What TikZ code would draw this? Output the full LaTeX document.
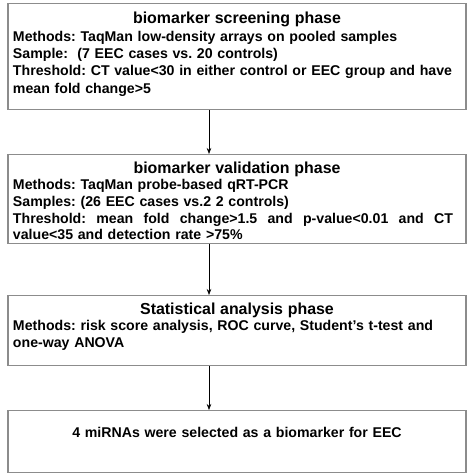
\documentclass[tikz,border=0pt]{standalone}
\usepackage{fontspec}
\setmainfont{Liberation Sans}
\usetikzlibrary{arrows.meta}

\newcommand{\phasetitle}[1]{\makebox[\hsize]{\fontsize{16}{18}\selectfont #1}}

\tikzset{
  phase/.style={draw=black!45, line width=1.2bp, rectangle, anchor=north,
    text width=448bp, inner xsep=5bp, inner ysep=4bp, align=left,
    text height=16bp, font=\bfseries\frenchspacing\fontsize{14.2}{17.5}\selectfont},
  tight/.style={text height=14.5bp, font=\bfseries\frenchspacing\fontsize{14.2}{16.7}\selectfont},
  flow/.style={draw, line width=0.6bp, -{Stealth[length=6bp,width=4.5bp]}}
}

\begin{document}
\begin{tikzpicture}[x=1bp,y=1bp]
\useasboundingbox (0,0) rectangle (474,-476);

\node[phase, text depth=82bp] (screen) at (237,-3) {\phasetitle{biomarker screening phase}\\
Methods: TaqMan low-density arrays on pooled samples\\
Sample:\ \ (7 EEC cases vs. 20 controls)\\
Threshold: CT value<30 in either control or EEC group and have\\
mean fold change>5};

\node[phase, tight, text depth=66.5bp] (valid) at (237,-154) {\phasetitle{biomarker validation phase}\\
Methods: TaqMan probe-based qRT-PCR\\
Samples: (26 EEC cases vs.2 2 controls)\\
\makebox[440bp][s]{Threshold:\hfill mean\hfill fold\hfill change>1.5\hfill and\hfill p-value<0.01\hfill and\hfill CT}\\
value<35 and detection rate >75\%};

\node[phase, tight, text depth=47.5bp] (stats) at (237,-295) {\phasetitle{Statistical analysis phase}\\
Methods: risk score analysis, ROC curve, Student's t-test and\\
one-way ANOVA};

\node[phase, align=center, text height=23bp, text depth=31bp] (result) at (237,-410) {4 miRNAs were selected as a biomarker for EEC};

\path[flow] ([xshift=-28bp]screen.south) -- ([xshift=-28bp]valid.north);
\path[flow] ([xshift=-28bp]valid.south) -- ([xshift=-28bp]stats.north);
\path[flow] ([xshift=-28bp]stats.south) -- ([xshift=-28bp]result.north);
\end{tikzpicture}
\end{document}
